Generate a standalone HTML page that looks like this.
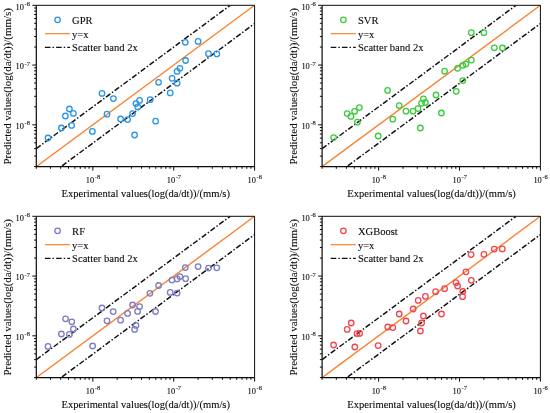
<!DOCTYPE html>
<html><head><meta charset="utf-8"><title>Scatter band plots</title>
<style>
html,body{margin:0;padding:0;background:#fff}
svg{display:block}
text{font-family:"Liberation Serif","Times New Roman",serif;fill:#0a0a0a;stroke:#0a0a0a;stroke-width:0.1px}
.tl{font-size:8.4px}
.sup{font-size:6.5px}
.lg{font-size:10.55px}
.ax{font-size:10.55px}
.ay{font-size:10.9px}
</style></head><body>
<svg width="550" height="413" viewBox="0 0 550 413">
<rect width="550" height="413" fill="#fff"/>

<g transform="translate(0,0)">
<defs><clipPath id="c0"><rect x="36.3" y="5.3" width="218.3" height="161.3"/></clipPath></defs>
<g clip-path="url(#c0)">
<line x1="36.3" y1="166.6" x2="254.6" y2="5.3" stroke="#fa8232" stroke-width="1.4"/>
<line x1="36.3" y1="148.61" x2="230.25" y2="5.3" stroke="#111" stroke-width="1.5" stroke-dasharray="5.45 1.97 1.45 1.96"/>
<line x1="62.05" y1="165.86" x2="255" y2="23.29" stroke="#111" stroke-width="1.5" stroke-dasharray="5.45 1.97 1.45 1.96"/>
</g>
<circle cx="48" cy="138" r="2.75" fill="none" stroke="#2b95e6" stroke-width="1.3"/>
<circle cx="61.4" cy="128" r="2.75" fill="none" stroke="#2b95e6" stroke-width="1.3"/>
<circle cx="65.4" cy="116" r="2.75" fill="none" stroke="#2b95e6" stroke-width="1.3"/>
<circle cx="69.4" cy="109" r="2.75" fill="none" stroke="#2b95e6" stroke-width="1.3"/>
<circle cx="73.4" cy="113.4" r="2.75" fill="none" stroke="#2b95e6" stroke-width="1.3"/>
<circle cx="71.6" cy="125.4" r="2.75" fill="none" stroke="#2b95e6" stroke-width="1.3"/>
<circle cx="92.4" cy="131.4" r="2.75" fill="none" stroke="#2b95e6" stroke-width="1.3"/>
<circle cx="102" cy="93.4" r="2.75" fill="none" stroke="#2b95e6" stroke-width="1.3"/>
<circle cx="113.4" cy="98.6" r="2.75" fill="none" stroke="#2b95e6" stroke-width="1.3"/>
<circle cx="107" cy="114.2" r="2.75" fill="none" stroke="#2b95e6" stroke-width="1.3"/>
<circle cx="120.6" cy="119" r="2.75" fill="none" stroke="#2b95e6" stroke-width="1.3"/>
<circle cx="127.6" cy="119.6" r="2.75" fill="none" stroke="#2b95e6" stroke-width="1.3"/>
<circle cx="132.6" cy="113.6" r="2.75" fill="none" stroke="#2b95e6" stroke-width="1.3"/>
<circle cx="134.6" cy="135" r="2.75" fill="none" stroke="#2b95e6" stroke-width="1.3"/>
<circle cx="136" cy="103.6" r="2.75" fill="none" stroke="#2b95e6" stroke-width="1.3"/>
<circle cx="137.8" cy="106.9" r="2.75" fill="none" stroke="#2b95e6" stroke-width="1.3"/>
<circle cx="139.6" cy="100.4" r="2.75" fill="none" stroke="#2b95e6" stroke-width="1.3"/>
<circle cx="185.3" cy="42.3" r="2.75" fill="none" stroke="#2b95e6" stroke-width="1.3"/>
<circle cx="198.1" cy="41.4" r="2.75" fill="none" stroke="#2b95e6" stroke-width="1.3"/>
<circle cx="208.5" cy="53.7" r="2.75" fill="none" stroke="#2b95e6" stroke-width="1.3"/>
<circle cx="216.8" cy="53.9" r="2.75" fill="none" stroke="#2b95e6" stroke-width="1.3"/>
<circle cx="185.6" cy="60.5" r="2.75" fill="none" stroke="#2b95e6" stroke-width="1.3"/>
<circle cx="179.9" cy="68.3" r="2.75" fill="none" stroke="#2b95e6" stroke-width="1.3"/>
<circle cx="177.1" cy="71.4" r="2.75" fill="none" stroke="#2b95e6" stroke-width="1.3"/>
<circle cx="172.1" cy="78.3" r="2.75" fill="none" stroke="#2b95e6" stroke-width="1.3"/>
<circle cx="177.1" cy="83.2" r="2.75" fill="none" stroke="#2b95e6" stroke-width="1.3"/>
<circle cx="158.6" cy="82.3" r="2.75" fill="none" stroke="#2b95e6" stroke-width="1.3"/>
<circle cx="170.2" cy="92.9" r="2.75" fill="none" stroke="#2b95e6" stroke-width="1.3"/>
<circle cx="150.2" cy="99.7" r="2.75" fill="none" stroke="#2b95e6" stroke-width="1.3"/>
<circle cx="155.6" cy="121.2" r="2.75" fill="none" stroke="#2b95e6" stroke-width="1.3"/>
<path d="M36.3 5.3V166.6H254.6" fill="none" stroke="#0a0a0a" stroke-width="1.2"/>
<path d="M36.3 5.3H254.6V166.6" fill="none" stroke="#0a0a0a" stroke-width="1"/>
<path d="M36.3 166.6h-2.2M36.3 166.6v2.2M36.3 156.08h-2.2M50.54 166.6v2.2M36.3 148.61h-2.2M60.65 166.6v2.2M36.3 142.82h-2.2M68.49 166.6v2.2M36.3 138.09h-2.2M74.89 166.6v2.2M36.3 134.08h-2.2M80.31 166.6v2.2M36.3 130.62h-2.2M85 166.6v2.2M36.3 127.56h-2.2M89.13 166.6v2.2M36.3 124.83h-4M92.83 166.6v4M36.3 106.84h-2.2M117.18 166.6v2.2M36.3 96.31h-2.2M131.43 166.6v2.2M36.3 88.85h-2.2M141.53 166.6v2.2M36.3 83.05h-2.2M149.37 166.6v2.2M36.3 78.32h-2.2M155.77 166.6v2.2M36.3 74.32h-2.2M161.19 166.6v2.2M36.3 70.86h-2.2M165.88 166.6v2.2M36.3 67.8h-2.2M170.02 166.6v2.2M36.3 65.06h-4M173.72 166.6v4M36.3 47.07h-2.2M198.07 166.6v2.2M36.3 36.55h-2.2M212.31 166.6v2.2M36.3 29.08h-2.2M222.41 166.6v2.2M36.3 23.29h-2.2M230.25 166.6v2.2M36.3 18.56h-2.2M236.66 166.6v2.2M36.3 14.56h-2.2M242.07 166.6v2.2M36.3 11.09h-2.2M246.76 166.6v2.2M36.3 8.03h-2.2M250.9 166.6v2.2M36.3 5.3h-4M254.6 166.6v4" fill="none" stroke="#0a0a0a" stroke-width="1"/>
<text class="tl" x="30" y="129.13" text-anchor="end">10<tspan class="sup" dx="0.6" dy="-3.8">-8</tspan></text>
<text class="tl" x="93.03" y="182.6" text-anchor="middle">10<tspan class="sup" dx="0.6" dy="-3.8">-8</tspan></text>
<text class="tl" x="30" y="69.36" text-anchor="end">10<tspan class="sup" dx="0.6" dy="-3.8">-7</tspan></text>
<text class="tl" x="173.92" y="182.6" text-anchor="middle">10<tspan class="sup" dx="0.6" dy="-3.8">-7</tspan></text>
<text class="tl" x="30" y="9.6" text-anchor="end">10<tspan class="sup" dx="0.6" dy="-3.8">-6</tspan></text>
<text class="tl" x="254.8" y="182.6" text-anchor="middle">10<tspan class="sup" dx="0.6" dy="-3.8">-6</tspan></text>
<text class="ax" x="145.75" y="197" text-anchor="middle">Experimental values(log(da/dt))/(mm/s)</text>
<text class="ay" transform="translate(11.3,86.35) rotate(-90)" text-anchor="middle">Predicted values(log(da/dt))/(mm/s)</text>
<circle cx="57.6" cy="19.8" r="2.75" fill="none" stroke="#2b95e6" stroke-width="1.3"/>
<text class="lg" x="72.1" y="23.5">GPR</text>
<line x1="44.9" y1="33.7" x2="70" y2="33.7" stroke="#fa8232" stroke-width="1.2"/>
<text class="lg" x="72.1" y="37.7">y=x</text>
<line x1="44.9" y1="47.4" x2="70" y2="47.4" stroke="#111" stroke-width="1.4" stroke-dasharray="5.6 2 1.5 2.1"/>
<text class="lg" x="72.1" y="51.1">Scatter band 2x</text>
</g>
<g transform="translate(285.8,0)">
<defs><clipPath id="c1"><rect x="36.3" y="5.3" width="218.3" height="161.3"/></clipPath></defs>
<g clip-path="url(#c1)">
<line x1="36.3" y1="166.6" x2="254.6" y2="5.3" stroke="#fa8232" stroke-width="1.4"/>
<line x1="36.3" y1="148.61" x2="230.25" y2="5.3" stroke="#111" stroke-width="1.5" stroke-dasharray="5.45 1.97 1.45 1.96"/>
<line x1="62.05" y1="165.86" x2="255" y2="23.29" stroke="#111" stroke-width="1.5" stroke-dasharray="5.45 1.97 1.45 1.96"/>
</g>
<circle cx="47.8" cy="137.6" r="2.75" fill="none" stroke="#3ccb3c" stroke-width="1.3"/>
<circle cx="61.4" cy="113.6" r="2.75" fill="none" stroke="#3ccb3c" stroke-width="1.3"/>
<circle cx="65.2" cy="116.4" r="2.75" fill="none" stroke="#3ccb3c" stroke-width="1.3"/>
<circle cx="68.8" cy="111.4" r="2.75" fill="none" stroke="#3ccb3c" stroke-width="1.3"/>
<circle cx="73.6" cy="107.6" r="2.75" fill="none" stroke="#3ccb3c" stroke-width="1.3"/>
<circle cx="71.6" cy="122.2" r="2.75" fill="none" stroke="#3ccb3c" stroke-width="1.3"/>
<circle cx="92.4" cy="136" r="2.75" fill="none" stroke="#3ccb3c" stroke-width="1.3"/>
<circle cx="101.8" cy="90.4" r="2.75" fill="none" stroke="#3ccb3c" stroke-width="1.3"/>
<circle cx="107" cy="119.2" r="2.75" fill="none" stroke="#3ccb3c" stroke-width="1.3"/>
<circle cx="113.4" cy="105.6" r="2.75" fill="none" stroke="#3ccb3c" stroke-width="1.3"/>
<circle cx="120.2" cy="111.2" r="2.75" fill="none" stroke="#3ccb3c" stroke-width="1.3"/>
<circle cx="127.2" cy="111.2" r="2.75" fill="none" stroke="#3ccb3c" stroke-width="1.3"/>
<circle cx="132.2" cy="108.6" r="2.75" fill="none" stroke="#3ccb3c" stroke-width="1.3"/>
<circle cx="134.6" cy="128" r="2.75" fill="none" stroke="#3ccb3c" stroke-width="1.3"/>
<circle cx="135.7" cy="103.3" r="2.75" fill="none" stroke="#3ccb3c" stroke-width="1.3"/>
<circle cx="137.6" cy="98.8" r="2.75" fill="none" stroke="#3ccb3c" stroke-width="1.3"/>
<circle cx="139.6" cy="102.5" r="2.75" fill="none" stroke="#3ccb3c" stroke-width="1.3"/>
<circle cx="185.5" cy="32.7" r="2.75" fill="none" stroke="#3ccb3c" stroke-width="1.3"/>
<circle cx="198.1" cy="32.7" r="2.75" fill="none" stroke="#3ccb3c" stroke-width="1.3"/>
<circle cx="208.5" cy="47.8" r="2.75" fill="none" stroke="#3ccb3c" stroke-width="1.3"/>
<circle cx="216.7" cy="48" r="2.75" fill="none" stroke="#3ccb3c" stroke-width="1.3"/>
<circle cx="185.5" cy="60.1" r="2.75" fill="none" stroke="#3ccb3c" stroke-width="1.3"/>
<circle cx="180.1" cy="64.1" r="2.75" fill="none" stroke="#3ccb3c" stroke-width="1.3"/>
<circle cx="177" cy="65.3" r="2.75" fill="none" stroke="#3ccb3c" stroke-width="1.3"/>
<circle cx="171.8" cy="68.3" r="2.75" fill="none" stroke="#3ccb3c" stroke-width="1.3"/>
<circle cx="158.8" cy="71.2" r="2.75" fill="none" stroke="#3ccb3c" stroke-width="1.3"/>
<circle cx="177" cy="80.6" r="2.75" fill="none" stroke="#3ccb3c" stroke-width="1.3"/>
<circle cx="170.4" cy="91.3" r="2.75" fill="none" stroke="#3ccb3c" stroke-width="1.3"/>
<circle cx="150.2" cy="95" r="2.75" fill="none" stroke="#3ccb3c" stroke-width="1.3"/>
<circle cx="155.6" cy="113" r="2.75" fill="none" stroke="#3ccb3c" stroke-width="1.3"/>
<path d="M36.3 5.3V166.6H254.6" fill="none" stroke="#0a0a0a" stroke-width="1.2"/>
<path d="M36.3 5.3H254.6V166.6" fill="none" stroke="#0a0a0a" stroke-width="1"/>
<path d="M36.3 166.6h-2.2M36.3 166.6v2.2M36.3 156.08h-2.2M50.54 166.6v2.2M36.3 148.61h-2.2M60.65 166.6v2.2M36.3 142.82h-2.2M68.49 166.6v2.2M36.3 138.09h-2.2M74.89 166.6v2.2M36.3 134.08h-2.2M80.31 166.6v2.2M36.3 130.62h-2.2M85 166.6v2.2M36.3 127.56h-2.2M89.13 166.6v2.2M36.3 124.83h-4M92.83 166.6v4M36.3 106.84h-2.2M117.18 166.6v2.2M36.3 96.31h-2.2M131.43 166.6v2.2M36.3 88.85h-2.2M141.53 166.6v2.2M36.3 83.05h-2.2M149.37 166.6v2.2M36.3 78.32h-2.2M155.77 166.6v2.2M36.3 74.32h-2.2M161.19 166.6v2.2M36.3 70.86h-2.2M165.88 166.6v2.2M36.3 67.8h-2.2M170.02 166.6v2.2M36.3 65.06h-4M173.72 166.6v4M36.3 47.07h-2.2M198.07 166.6v2.2M36.3 36.55h-2.2M212.31 166.6v2.2M36.3 29.08h-2.2M222.41 166.6v2.2M36.3 23.29h-2.2M230.25 166.6v2.2M36.3 18.56h-2.2M236.66 166.6v2.2M36.3 14.56h-2.2M242.07 166.6v2.2M36.3 11.09h-2.2M246.76 166.6v2.2M36.3 8.03h-2.2M250.9 166.6v2.2M36.3 5.3h-4M254.6 166.6v4" fill="none" stroke="#0a0a0a" stroke-width="1"/>
<text class="tl" x="30" y="129.13" text-anchor="end">10<tspan class="sup" dx="0.6" dy="-3.8">-8</tspan></text>
<text class="tl" x="93.03" y="182.6" text-anchor="middle">10<tspan class="sup" dx="0.6" dy="-3.8">-8</tspan></text>
<text class="tl" x="30" y="69.36" text-anchor="end">10<tspan class="sup" dx="0.6" dy="-3.8">-7</tspan></text>
<text class="tl" x="173.92" y="182.6" text-anchor="middle">10<tspan class="sup" dx="0.6" dy="-3.8">-7</tspan></text>
<text class="tl" x="30" y="9.6" text-anchor="end">10<tspan class="sup" dx="0.6" dy="-3.8">-6</tspan></text>
<text class="tl" x="254.8" y="182.6" text-anchor="middle">10<tspan class="sup" dx="0.6" dy="-3.8">-6</tspan></text>
<text class="ax" x="145.75" y="197" text-anchor="middle">Experimental values(log(da/dt))/(mm/s)</text>
<text class="ay" transform="translate(11.3,86.35) rotate(-90)" text-anchor="middle">Predicted values(log(da/dt))/(mm/s)</text>
<circle cx="57.6" cy="19.8" r="2.75" fill="none" stroke="#3ccb3c" stroke-width="1.3"/>
<text class="lg" x="72.1" y="23.5">SVR</text>
<line x1="44.9" y1="33.7" x2="70" y2="33.7" stroke="#fa8232" stroke-width="1.2"/>
<text class="lg" x="72.1" y="37.7">y=x</text>
<line x1="44.9" y1="47.4" x2="70" y2="47.4" stroke="#111" stroke-width="1.4" stroke-dasharray="5.6 2 1.5 2.1"/>
<text class="lg" x="72.1" y="51.1">Scatter band 2x</text>
</g>
<g transform="translate(0,211)">
<defs><clipPath id="c2"><rect x="36.3" y="5.3" width="218.3" height="161.3"/></clipPath></defs>
<g clip-path="url(#c2)">
<line x1="36.3" y1="166.6" x2="254.6" y2="5.3" stroke="#fa8232" stroke-width="1.4"/>
<line x1="36.3" y1="148.61" x2="230.25" y2="5.3" stroke="#111" stroke-width="1.5" stroke-dasharray="5.45 1.97 1.45 1.96"/>
<line x1="62.05" y1="165.86" x2="255" y2="23.29" stroke="#111" stroke-width="1.5" stroke-dasharray="5.45 1.97 1.45 1.96"/>
</g>
<circle cx="48" cy="135.4" r="2.75" fill="none" stroke="#7c7cc0" stroke-width="1.3"/>
<circle cx="61.4" cy="123" r="2.75" fill="none" stroke="#7c7cc0" stroke-width="1.3"/>
<circle cx="65.6" cy="107.8" r="2.75" fill="none" stroke="#7c7cc0" stroke-width="1.3"/>
<circle cx="71.8" cy="110.8" r="2.75" fill="none" stroke="#7c7cc0" stroke-width="1.3"/>
<circle cx="73.4" cy="118" r="2.75" fill="none" stroke="#7c7cc0" stroke-width="1.3"/>
<circle cx="69.4" cy="123.4" r="2.75" fill="none" stroke="#7c7cc0" stroke-width="1.3"/>
<circle cx="92.6" cy="135" r="2.75" fill="none" stroke="#7c7cc0" stroke-width="1.3"/>
<circle cx="102" cy="97" r="2.75" fill="none" stroke="#7c7cc0" stroke-width="1.3"/>
<circle cx="113.2" cy="100.6" r="2.75" fill="none" stroke="#7c7cc0" stroke-width="1.3"/>
<circle cx="107" cy="109.8" r="2.75" fill="none" stroke="#7c7cc0" stroke-width="1.3"/>
<circle cx="120.6" cy="109.2" r="2.75" fill="none" stroke="#7c7cc0" stroke-width="1.3"/>
<circle cx="127.6" cy="102.4" r="2.75" fill="none" stroke="#7c7cc0" stroke-width="1.3"/>
<circle cx="132.6" cy="94" r="2.75" fill="none" stroke="#7c7cc0" stroke-width="1.3"/>
<circle cx="136" cy="114.4" r="2.75" fill="none" stroke="#7c7cc0" stroke-width="1.3"/>
<circle cx="134.6" cy="118.4" r="2.75" fill="none" stroke="#7c7cc0" stroke-width="1.3"/>
<circle cx="137.6" cy="100.4" r="2.75" fill="none" stroke="#7c7cc0" stroke-width="1.3"/>
<circle cx="139.6" cy="95.6" r="2.75" fill="none" stroke="#7c7cc0" stroke-width="1.3"/>
<circle cx="185.3" cy="56.6" r="2.75" fill="none" stroke="#7c7cc0" stroke-width="1.3"/>
<circle cx="198.1" cy="55.6" r="2.75" fill="none" stroke="#7c7cc0" stroke-width="1.3"/>
<circle cx="208.5" cy="57.1" r="2.75" fill="none" stroke="#7c7cc0" stroke-width="1.3"/>
<circle cx="216.8" cy="56.8" r="2.75" fill="none" stroke="#7c7cc0" stroke-width="1.3"/>
<circle cx="185.6" cy="67.7" r="2.75" fill="none" stroke="#7c7cc0" stroke-width="1.3"/>
<circle cx="179.9" cy="65.6" r="2.75" fill="none" stroke="#7c7cc0" stroke-width="1.3"/>
<circle cx="177.1" cy="67.9" r="2.75" fill="none" stroke="#7c7cc0" stroke-width="1.3"/>
<circle cx="171.9" cy="69.1" r="2.75" fill="none" stroke="#7c7cc0" stroke-width="1.3"/>
<circle cx="158.6" cy="74.5" r="2.75" fill="none" stroke="#7c7cc0" stroke-width="1.3"/>
<circle cx="170.2" cy="81.4" r="2.75" fill="none" stroke="#7c7cc0" stroke-width="1.3"/>
<circle cx="177.1" cy="82.1" r="2.75" fill="none" stroke="#7c7cc0" stroke-width="1.3"/>
<circle cx="149.9" cy="82.3" r="2.75" fill="none" stroke="#7c7cc0" stroke-width="1.3"/>
<circle cx="155.5" cy="100.5" r="2.75" fill="none" stroke="#7c7cc0" stroke-width="1.3"/>
<path d="M36.3 5.3V166.6H254.6" fill="none" stroke="#0a0a0a" stroke-width="1.2"/>
<path d="M36.3 5.3H254.6V166.6" fill="none" stroke="#0a0a0a" stroke-width="1"/>
<path d="M36.3 166.6h-2.2M36.3 166.6v2.2M36.3 156.08h-2.2M50.54 166.6v2.2M36.3 148.61h-2.2M60.65 166.6v2.2M36.3 142.82h-2.2M68.49 166.6v2.2M36.3 138.09h-2.2M74.89 166.6v2.2M36.3 134.08h-2.2M80.31 166.6v2.2M36.3 130.62h-2.2M85 166.6v2.2M36.3 127.56h-2.2M89.13 166.6v2.2M36.3 124.83h-4M92.83 166.6v4M36.3 106.84h-2.2M117.18 166.6v2.2M36.3 96.31h-2.2M131.43 166.6v2.2M36.3 88.85h-2.2M141.53 166.6v2.2M36.3 83.05h-2.2M149.37 166.6v2.2M36.3 78.32h-2.2M155.77 166.6v2.2M36.3 74.32h-2.2M161.19 166.6v2.2M36.3 70.86h-2.2M165.88 166.6v2.2M36.3 67.8h-2.2M170.02 166.6v2.2M36.3 65.06h-4M173.72 166.6v4M36.3 47.07h-2.2M198.07 166.6v2.2M36.3 36.55h-2.2M212.31 166.6v2.2M36.3 29.08h-2.2M222.41 166.6v2.2M36.3 23.29h-2.2M230.25 166.6v2.2M36.3 18.56h-2.2M236.66 166.6v2.2M36.3 14.56h-2.2M242.07 166.6v2.2M36.3 11.09h-2.2M246.76 166.6v2.2M36.3 8.03h-2.2M250.9 166.6v2.2M36.3 5.3h-4M254.6 166.6v4" fill="none" stroke="#0a0a0a" stroke-width="1"/>
<text class="tl" x="30" y="129.13" text-anchor="end">10<tspan class="sup" dx="0.6" dy="-3.8">-8</tspan></text>
<text class="tl" x="93.03" y="182.6" text-anchor="middle">10<tspan class="sup" dx="0.6" dy="-3.8">-8</tspan></text>
<text class="tl" x="30" y="69.36" text-anchor="end">10<tspan class="sup" dx="0.6" dy="-3.8">-7</tspan></text>
<text class="tl" x="173.92" y="182.6" text-anchor="middle">10<tspan class="sup" dx="0.6" dy="-3.8">-7</tspan></text>
<text class="tl" x="30" y="9.6" text-anchor="end">10<tspan class="sup" dx="0.6" dy="-3.8">-6</tspan></text>
<text class="tl" x="254.8" y="182.6" text-anchor="middle">10<tspan class="sup" dx="0.6" dy="-3.8">-6</tspan></text>
<text class="ax" x="145.75" y="197" text-anchor="middle">Experimental values(log(da/dt))/(mm/s)</text>
<text class="ay" transform="translate(11.3,86.35) rotate(-90)" text-anchor="middle">Predicted values(log(da/dt))/(mm/s)</text>
<circle cx="57.6" cy="19.8" r="2.75" fill="none" stroke="#7c7cc0" stroke-width="1.3"/>
<text class="lg" x="72.1" y="23.5">RF</text>
<line x1="44.9" y1="33.7" x2="70" y2="33.7" stroke="#fa8232" stroke-width="1.2"/>
<text class="lg" x="72.1" y="37.7">y=x</text>
<line x1="44.9" y1="47.4" x2="70" y2="47.4" stroke="#111" stroke-width="1.4" stroke-dasharray="5.6 2 1.5 2.1"/>
<text class="lg" x="72.1" y="51.1">Scatter band 2x</text>
</g>
<g transform="translate(285.8,211)">
<defs><clipPath id="c3"><rect x="36.3" y="5.3" width="218.3" height="161.3"/></clipPath></defs>
<g clip-path="url(#c3)">
<line x1="36.3" y1="166.6" x2="254.6" y2="5.3" stroke="#fa8232" stroke-width="1.4"/>
<line x1="36.3" y1="148.61" x2="230.25" y2="5.3" stroke="#111" stroke-width="1.5" stroke-dasharray="5.45 1.97 1.45 1.96"/>
<line x1="62.05" y1="165.86" x2="255" y2="23.29" stroke="#111" stroke-width="1.5" stroke-dasharray="5.45 1.97 1.45 1.96"/>
</g>
<circle cx="47.8" cy="134" r="2.75" fill="none" stroke="#f04650" stroke-width="1.3"/>
<circle cx="61.4" cy="118.4" r="2.75" fill="none" stroke="#f04650" stroke-width="1.3"/>
<circle cx="65.4" cy="112" r="2.75" fill="none" stroke="#f04650" stroke-width="1.3"/>
<circle cx="71.2" cy="122.6" r="2.75" fill="none" stroke="#f04650" stroke-width="1.3"/>
<circle cx="73.8" cy="122.4" r="2.75" fill="none" stroke="#f04650" stroke-width="1.3"/>
<circle cx="69" cy="136" r="2.75" fill="none" stroke="#f04650" stroke-width="1.3"/>
<circle cx="92.4" cy="134.6" r="2.75" fill="none" stroke="#f04650" stroke-width="1.3"/>
<circle cx="102" cy="116" r="2.75" fill="none" stroke="#f04650" stroke-width="1.3"/>
<circle cx="107" cy="116.6" r="2.75" fill="none" stroke="#f04650" stroke-width="1.3"/>
<circle cx="113.4" cy="103" r="2.75" fill="none" stroke="#f04650" stroke-width="1.3"/>
<circle cx="120.2" cy="110" r="2.75" fill="none" stroke="#f04650" stroke-width="1.3"/>
<circle cx="127.4" cy="98" r="2.75" fill="none" stroke="#f04650" stroke-width="1.3"/>
<circle cx="132.4" cy="89.4" r="2.75" fill="none" stroke="#f04650" stroke-width="1.3"/>
<circle cx="137.6" cy="105" r="2.75" fill="none" stroke="#f04650" stroke-width="1.3"/>
<circle cx="135.8" cy="112" r="2.75" fill="none" stroke="#f04650" stroke-width="1.3"/>
<circle cx="134.6" cy="120" r="2.75" fill="none" stroke="#f04650" stroke-width="1.3"/>
<circle cx="139.6" cy="85.4" r="2.75" fill="none" stroke="#f04650" stroke-width="1.3"/>
<circle cx="185.3" cy="43.6" r="2.75" fill="none" stroke="#f04650" stroke-width="1.3"/>
<circle cx="198.1" cy="43.3" r="2.75" fill="none" stroke="#f04650" stroke-width="1.3"/>
<circle cx="208.5" cy="38.1" r="2.75" fill="none" stroke="#f04650" stroke-width="1.3"/>
<circle cx="216.5" cy="37.9" r="2.75" fill="none" stroke="#f04650" stroke-width="1.3"/>
<circle cx="180.1" cy="60.8" r="2.75" fill="none" stroke="#f04650" stroke-width="1.3"/>
<circle cx="185.5" cy="69.3" r="2.75" fill="none" stroke="#f04650" stroke-width="1.3"/>
<circle cx="170.2" cy="71.7" r="2.75" fill="none" stroke="#f04650" stroke-width="1.3"/>
<circle cx="171.8" cy="75" r="2.75" fill="none" stroke="#f04650" stroke-width="1.3"/>
<circle cx="158.8" cy="77.7" r="2.75" fill="none" stroke="#f04650" stroke-width="1.3"/>
<circle cx="177" cy="80.5" r="2.75" fill="none" stroke="#f04650" stroke-width="1.3"/>
<circle cx="176.8" cy="85.7" r="2.75" fill="none" stroke="#f04650" stroke-width="1.3"/>
<circle cx="149.8" cy="80.7" r="2.75" fill="none" stroke="#f04650" stroke-width="1.3"/>
<circle cx="155.7" cy="103" r="2.75" fill="none" stroke="#f04650" stroke-width="1.3"/>
<path d="M36.3 5.3V166.6H254.6" fill="none" stroke="#0a0a0a" stroke-width="1.2"/>
<path d="M36.3 5.3H254.6V166.6" fill="none" stroke="#0a0a0a" stroke-width="1"/>
<path d="M36.3 166.6h-2.2M36.3 166.6v2.2M36.3 156.08h-2.2M50.54 166.6v2.2M36.3 148.61h-2.2M60.65 166.6v2.2M36.3 142.82h-2.2M68.49 166.6v2.2M36.3 138.09h-2.2M74.89 166.6v2.2M36.3 134.08h-2.2M80.31 166.6v2.2M36.3 130.62h-2.2M85 166.6v2.2M36.3 127.56h-2.2M89.13 166.6v2.2M36.3 124.83h-4M92.83 166.6v4M36.3 106.84h-2.2M117.18 166.6v2.2M36.3 96.31h-2.2M131.43 166.6v2.2M36.3 88.85h-2.2M141.53 166.6v2.2M36.3 83.05h-2.2M149.37 166.6v2.2M36.3 78.32h-2.2M155.77 166.6v2.2M36.3 74.32h-2.2M161.19 166.6v2.2M36.3 70.86h-2.2M165.88 166.6v2.2M36.3 67.8h-2.2M170.02 166.6v2.2M36.3 65.06h-4M173.72 166.6v4M36.3 47.07h-2.2M198.07 166.6v2.2M36.3 36.55h-2.2M212.31 166.6v2.2M36.3 29.08h-2.2M222.41 166.6v2.2M36.3 23.29h-2.2M230.25 166.6v2.2M36.3 18.56h-2.2M236.66 166.6v2.2M36.3 14.56h-2.2M242.07 166.6v2.2M36.3 11.09h-2.2M246.76 166.6v2.2M36.3 8.03h-2.2M250.9 166.6v2.2M36.3 5.3h-4M254.6 166.6v4" fill="none" stroke="#0a0a0a" stroke-width="1"/>
<text class="tl" x="30" y="129.13" text-anchor="end">10<tspan class="sup" dx="0.6" dy="-3.8">-8</tspan></text>
<text class="tl" x="93.03" y="182.6" text-anchor="middle">10<tspan class="sup" dx="0.6" dy="-3.8">-8</tspan></text>
<text class="tl" x="30" y="69.36" text-anchor="end">10<tspan class="sup" dx="0.6" dy="-3.8">-7</tspan></text>
<text class="tl" x="173.92" y="182.6" text-anchor="middle">10<tspan class="sup" dx="0.6" dy="-3.8">-7</tspan></text>
<text class="tl" x="30" y="9.6" text-anchor="end">10<tspan class="sup" dx="0.6" dy="-3.8">-6</tspan></text>
<text class="tl" x="254.8" y="182.6" text-anchor="middle">10<tspan class="sup" dx="0.6" dy="-3.8">-6</tspan></text>
<text class="ax" x="145.75" y="197" text-anchor="middle">Experimental values(log(da/dt))/(mm/s)</text>
<text class="ay" transform="translate(11.3,86.35) rotate(-90)" text-anchor="middle">Predicted values(log(da/dt))/(mm/s)</text>
<circle cx="57.6" cy="19.8" r="2.75" fill="none" stroke="#f04650" stroke-width="1.3"/>
<text class="lg" x="72.1" y="23.5">XGBoost</text>
<line x1="44.9" y1="33.7" x2="70" y2="33.7" stroke="#fa8232" stroke-width="1.2"/>
<text class="lg" x="72.1" y="37.7">y=x</text>
<line x1="44.9" y1="47.4" x2="70" y2="47.4" stroke="#111" stroke-width="1.4" stroke-dasharray="5.6 2 1.5 2.1"/>
<text class="lg" x="72.1" y="51.1">Scatter band 2x</text>
</g>
</svg>
</body></html>
